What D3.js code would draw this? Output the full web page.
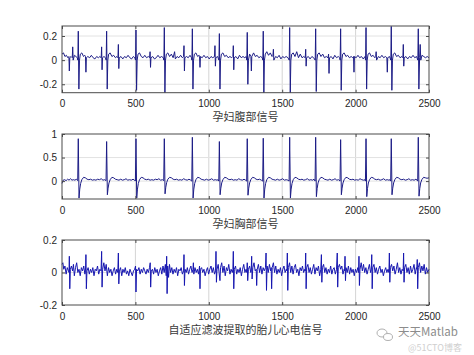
<!DOCTYPE html>
<html>
<head>
<meta charset="utf-8">
<script src="https://cdn.jsdelivr.net/npm/d3@7"></script>
<style>
  body { margin: 0; background: #fff; }
  svg { display: block; }
  .tick text { font-family: "Liberation Sans", Arial, sans-serif; font-size: 10px; fill: #262626; }
</style>
</head>
<body>
<svg id="chart" width="474" height="355"></svg>
<script>
// x ticks shared by the three panels
const xTicks = [0, 500, 1000, 1500, 2000, 2500];

const titles = ["孕妇腹部信号", "孕妇胸部信号", "自适应滤波提取的胎儿心电信号"];
const yTicks1 = [-0.2, 0, 0.2];
const yTicks2 = [0, 0.5, 1];
const yTicks3 = [-0.2, 0, 0.2];

// abdominal signal (sample, value)
const abdomen = [
[0,0.05],[10,0.06],[20,0.03],[30,0.04],[40,0.02],[47,0.03],[50,-0.09],[53,0.02],[62,0.03],[70,0.02],[73,0.11],[76,0.0],[85,0.04],[95,0.03],[104,0.02],[108,0.0],[111,0.24],[115,-0.24],[119,0.0],[125,0.05],[135,0.06],[147,0.03],[155,0.04],[160,0.03],[163,-0.10],[166,0.02],[176,0.03],[188,0.02],[200,0.04],[212,0.02],[224,0.01],[236,0.03],[248,0.02],[258,0.03],[267,0.02],[270,0.11],[273,-0.08],[276,0.02],[286,0.03],[296,0.02],[301,0.0],[304,0.24],[308,-0.24],[312,0.0],[318,0.05],[328,0.06],[340,0.03],[352,0.04],[364,0.02],[374,0.03],[381,0.02],[384,0.13],[387,-0.07],[390,0.02],[402,0.03],[414,0.01],[426,0.03],[438,0.02],[450,0.04],[462,0.02],[474,0.01],[486,0.03],[496,0.02],[501,0.0],[504,0.25],[508,-0.25],[512,0.0],[518,0.05],[528,0.06],[540,0.03],[552,0.02],[564,0.04],[576,0.02],[588,0.03],[597,0.02],[600,0.07],[603,-0.06],[606,0.02],[618,0.03],[630,0.01],[642,0.02],[654,0.04],[666,0.02],[678,0.03],[690,0.02],[694,0.0],[697,0.27],[701,-0.27],[705,0.0],[711,0.05],[721,0.06],[733,0.03],[745,0.05],[757,0.02],[767,0.07],[772,0.01],[784,0.03],[796,0.02],[808,0.04],[820,0.02],[828,0.03],[831,0.12],[834,-0.09],[837,0.02],[848,0.03],[860,0.02],[872,0.04],[882,0.02],[885,0.0],[888,0.26],[892,-0.24],[896,0.0],[902,0.05],[912,0.06],[924,0.03],[934,0.04],[937,0.03],[940,-0.06],[943,0.03],[955,0.02],[967,0.04],[979,0.02],[991,0.03],[1003,0.01],[1015,0.03],[1027,0.02],[1039,0.03],[1042,0.12],[1045,-0.05],[1048,0.02],[1060,0.03],[1069,0.0],[1072,0.22],[1076,-0.24],[1080,0.0],[1086,0.05],[1096,0.06],[1108,0.03],[1120,0.04],[1132,0.02],[1144,0.03],[1156,0.02],[1164,0.03],[1167,0.12],[1170,-0.08],[1173,0.02],[1185,0.03],[1197,0.01],[1209,0.04],[1221,0.02],[1233,0.03],[1245,0.02],[1255,0.03],[1259,0.0],[1262,0.23],[1266,-0.2],[1270,0.0],[1278,0.05],[1287,0.03],[1290,-0.09],[1293,0.03],[1305,0.06],[1317,0.03],[1329,0.04],[1341,0.02],[1353,0.03],[1364,0.02],[1368,0.0],[1371,0.24],[1375,-0.27],[1379,0.0],[1385,0.05],[1395,0.07],[1407,0.04],[1419,0.06],[1431,0.03],[1437,0.04],[1440,0.09],[1443,0.0],[1455,0.03],[1467,0.02],[1479,0.04],[1491,0.01],[1503,0.03],[1515,0.02],[1527,0.03],[1539,0.02],[1548,0.0],[1551,0.27],[1555,-0.27],[1559,0.0],[1565,0.05],[1575,0.06],[1587,0.03],[1599,0.07],[1611,0.02],[1623,0.05],[1635,0.02],[1647,0.03],[1657,0.02],[1660,0.09],[1663,-0.05],[1666,0.02],[1678,0.03],[1690,0.01],[1702,0.03],[1714,0.02],[1725,0.0],[1728,0.26],[1732,-0.26],[1736,0.0],[1742,0.05],[1752,0.06],[1764,0.03],[1776,0.05],[1788,0.02],[1800,0.03],[1812,0.02],[1816,0.05],[1819,-0.11],[1822,0.02],[1834,0.03],[1846,0.01],[1858,0.04],[1870,0.02],[1882,0.03],[1891,0.02],[1895,0.0],[1898,0.26],[1902,-0.25],[1906,0.0],[1912,0.05],[1922,0.06],[1934,0.03],[1946,0.04],[1958,0.02],[1970,0.03],[1980,0.02],[1986,0.03],[1989,-0.1],[1992,0.03],[2004,0.02],[2016,0.04],[2028,0.02],[2040,0.03],[2052,0.01],[2064,0.03],[2068,0.0],[2071,0.27],[2075,-0.24],[2079,0.0],[2085,0.05],[2095,0.06],[2107,0.03],[2119,0.04],[2131,0.02],[2137,0.03],[2140,0.07],[2143,0.0],[2155,0.03],[2167,0.02],[2179,0.04],[2191,0.02],[2203,0.03],[2213,0.02],[2216,-0.1],[2219,0.02],[2231,0.03],[2240,0.0],[2243,0.28],[2247,-0.25],[2251,0.0],[2257,0.05],[2267,0.06],[2279,0.03],[2291,0.04],[2303,0.02],[2315,0.03],[2322,0.02],[2325,0.13],[2328,-0.05],[2331,0.02],[2343,0.03],[2355,0.01],[2367,0.03],[2379,0.02],[2391,0.04],[2403,0.02],[2415,0.03],[2424,0.0],[2427,0.26],[2431,-0.24],[2436,0.02],[2440,0.13],[2444,0.0],[2452,0.04],[2464,0.03],[2476,0.02],[2488,0.03],[2500,0.02]
];

// thoracic signal
const thorax = [
[0,-0.05],[8,0.02],[18,0.03],[28,0.01],[38,0.04],[48,0.02],[58,0.05],[68,0.02],[78,0.03],[88,0.02],[98,0.04],[107,0.01],[111,0.90],[116,-0.36],[121,-0.17],[127,-0.05],[135,0.03],[147,0.08],[159,0.07],[171,0.04],[183,0.03],[195,0.04],[207,0.02],[219,0.03],[231,0.02],[243,0.04],[255,0.03],[267,0.05],[279,0.02],[291,0.03],[300,0.01],[304,0.84],[309,-0.29],[314,-0.15],[320,-0.04],[328,0.03],[340,0.08],[352,0.07],[364,0.04],[376,0.03],[388,0.02],[400,0.04],[412,0.02],[424,0.03],[436,0.05],[448,0.02],[460,0.03],[472,0.02],[484,0.04],[494,0.02],[500,0.0],[504,0.90],[509,-0.36],[514,-0.17],[520,-0.05],[528,0.03],[540,0.08],[552,0.07],[564,0.04],[576,0.03],[588,0.04],[600,0.02],[612,0.03],[624,0.02],[636,0.04],[648,0.03],[660,0.05],[672,0.02],[684,0.03],[693,0.01],[697,0.90],[702,-0.27],[707,-0.13],[713,-0.03],[721,0.04],[733,0.08],[745,0.07],[757,0.04],[769,0.03],[781,0.04],[793,0.02],[805,0.03],[817,0.02],[829,0.05],[841,0.03],[853,0.02],[865,0.04],[877,0.02],[884,0.0],[888,0.93],[893,-0.36],[898,-0.17],[904,-0.05],[912,0.03],[924,0.08],[936,0.07],[948,0.04],[960,0.03],[972,0.02],[984,0.04],[996,0.02],[1008,0.03],[1020,0.05],[1032,0.02],[1044,0.03],[1056,0.02],[1064,0.03],[1068,0.0],[1072,0.84],[1077,-0.29],[1082,-0.15],[1088,-0.04],[1096,0.03],[1108,0.08],[1120,0.07],[1132,0.04],[1144,0.03],[1156,0.04],[1168,0.02],[1180,0.03],[1192,0.02],[1204,0.05],[1216,0.03],[1228,0.02],[1240,0.04],[1250,0.02],[1258,0.0],[1262,0.90],[1267,-0.30],[1272,-0.15],[1278,-0.04],[1286,0.03],[1298,0.08],[1310,0.07],[1322,0.04],[1334,0.03],[1346,0.04],[1358,0.02],[1367,0.0],[1371,0.91],[1376,-0.36],[1381,-0.17],[1387,-0.05],[1395,0.03],[1407,0.08],[1419,0.07],[1431,0.04],[1443,0.03],[1455,0.02],[1467,0.04],[1479,0.02],[1491,0.03],[1503,0.05],[1515,0.02],[1527,0.03],[1539,0.02],[1547,0.0],[1551,0.93],[1556,-0.36],[1561,-0.17],[1567,-0.05],[1575,0.03],[1587,0.08],[1599,0.07],[1611,0.04],[1623,0.03],[1635,0.04],[1647,0.02],[1659,0.03],[1671,0.05],[1683,0.02],[1695,0.03],[1707,0.02],[1717,0.04],[1724,0.0],[1728,0.93],[1733,-0.33],[1738,-0.16],[1744,-0.04],[1752,0.03],[1764,0.08],[1776,0.07],[1788,0.04],[1800,0.03],[1812,0.02],[1824,0.04],[1836,0.02],[1848,0.03],[1860,0.05],[1872,0.02],[1884,0.03],[1894,0.0],[1898,0.88],[1903,-0.29],[1908,-0.15],[1914,-0.04],[1922,0.03],[1934,0.08],[1946,0.07],[1958,0.04],[1970,0.03],[1982,0.04],[1994,0.02],[2006,0.03],[2018,0.02],[2030,0.05],[2042,0.03],[2054,0.02],[2062,0.03],[2067,0.0],[2071,0.90],[2076,-0.33],[2081,-0.16],[2087,-0.04],[2095,0.03],[2107,0.08],[2119,0.07],[2131,0.04],[2143,0.03],[2155,0.04],[2167,0.02],[2179,0.03],[2191,0.05],[2203,0.02],[2215,0.03],[2227,0.02],[2235,0.03],[2239,0.0],[2243,0.90],[2248,-0.29],[2253,-0.15],[2259,-0.04],[2267,0.03],[2279,0.08],[2291,0.07],[2303,0.04],[2315,0.03],[2327,0.04],[2339,0.02],[2351,0.03],[2363,0.05],[2375,0.02],[2387,0.03],[2399,0.02],[2411,0.04],[2419,0.02],[2423,0.0],[2427,0.93],[2432,-0.32],[2437,-0.16],[2443,-0.04],[2451,0.03],[2463,0.08],[2475,0.07],[2487,0.06],[2500,0.07]
];

// extracted fetal ECG
const fetal = [
[0,0.05],[6,0.06],[12,0.02],[20,0.04],[28,-0.01],[36,0.03],[44,0.01],[48,0.0],[50,0.10],[53,-0.10],[57,0.02],[64,0.04],[72,0.01],[78,0.05],[84,-0.02],[92,0.03],[100,0.06],[108,0.0],[116,0.02],[124,-0.02],[132,0.03],[140,0.01],[148,0.04],[156,-0.01],[160,0.01],[163,0.11],[166,-0.10],[170,0.01],[178,0.03],[186,-0.01],[194,0.02],[202,0.0],[210,0.03],[218,-0.02],[226,0.02],[234,0.01],[242,0.04],[250,-0.01],[258,0.02],[266,0.01],[270,0.13],[273,-0.09],[277,0.02],[285,0.06],[293,0.01],[301,0.05],[309,-0.02],[317,0.03],[325,0.0],[333,0.02],[341,-0.02],[349,0.01],[357,0.03],[365,-0.01],[373,0.02],[380,0.0],[384,0.12],[387,-0.07],[391,0.01],[399,0.03],[407,-0.02],[415,0.02],[423,0.0],[431,0.03],[439,-0.01],[447,0.01],[455,-0.02],[463,0.02],[471,0.0],[479,-0.02],[487,0.01],[495,0.02],[501,0.04],[504,-0.12],[508,0.02],[516,0.01],[524,0.03],[532,-0.01],[540,0.02],[548,0.0],[556,0.03],[564,0.01],[572,-0.01],[580,0.02],[588,0.0],[596,0.03],[601,0.06],[604,-0.09],[608,0.01],[616,0.02],[624,-0.01],[632,0.03],[640,0.0],[648,0.02],[656,-0.02],[664,0.01],[672,0.03],[680,-0.01],[688,0.04],[696,0.0],[704,0.05],[710,-0.02],[713,0.10],[716,-0.13],[720,0.04],[726,-0.03],[732,0.05],[740,0.0],[748,0.03],[756,-0.01],[764,0.02],[772,0.0],[780,0.03],[788,-0.02],[796,0.02],[804,0.01],[812,0.03],[820,-0.01],[828,0.01],[831,0.11],[834,-0.08],[838,0.02],[846,0.0],[854,0.03],[862,-0.01],[870,0.02],[878,0.04],[886,0.0],[892,0.02],[895,0.06],[898,-0.01],[906,0.03],[914,0.0],[922,0.02],[930,-0.01],[937,0.04],[940,-0.10],[943,0.02],[951,0.03],[959,0.0],[967,0.02],[975,-0.02],[983,0.01],[991,0.03],[999,-0.01],[1007,0.02],[1015,0.04],[1023,0.0],[1031,0.03],[1039,-0.01],[1046,0.01],[1049,0.13],[1052,-0.06],[1056,0.02],[1064,0.05],[1070,0.0],[1076,-0.05],[1080,0.03],[1088,0.06],[1096,0.0],[1104,0.04],[1112,-0.02],[1120,0.03],[1128,0.01],[1136,0.05],[1144,-0.01],[1152,0.02],[1160,0.0],[1164,0.02],[1167,0.13],[1170,-0.10],[1174,0.02],[1182,0.04],[1190,-0.01],[1198,0.02],[1206,0.0],[1214,0.03],[1222,-0.02],[1230,0.02],[1238,0.05],[1246,0.0],[1254,0.02],[1259,0.0],[1262,0.06],[1265,-0.05],[1270,0.02],[1278,0.04],[1286,0.0],[1289,0.01],[1292,0.10],[1295,-0.04],[1300,0.03],[1308,0.06],[1316,0.01],[1323,0.02],[1326,-0.08],[1330,0.02],[1338,0.05],[1346,0.0],[1354,0.04],[1362,-0.01],[1370,0.03],[1378,0.01],[1386,0.03],[1390,0.12],[1393,-0.11],[1397,0.04],[1405,0.0],[1413,0.05],[1421,0.01],[1425,0.03],[1428,-0.10],[1432,0.03],[1440,0.06],[1448,0.0],[1456,0.04],[1464,-0.01],[1472,0.02],[1480,0.0],[1488,0.03],[1496,-0.02],[1504,0.02],[1512,0.04],[1520,0.0],[1528,0.02],[1532,0.01],[1535,0.12],[1538,-0.11],[1542,0.03],[1550,0.06],[1558,0.0],[1566,0.04],[1574,-0.01],[1582,0.03],[1590,0.05],[1598,0.0],[1606,0.02],[1614,-0.02],[1622,0.03],[1630,0.01],[1638,0.04],[1646,0.0],[1654,0.02],[1657,0.01],[1660,0.12],[1663,-0.10],[1667,0.03],[1675,0.05],[1683,0.0],[1691,0.03],[1699,-0.01],[1707,0.02],[1715,0.05],[1723,-0.01],[1731,0.03],[1739,0.01],[1747,0.04],[1755,-0.02],[1763,0.02],[1767,0.11],[1770,-0.06],[1774,0.03],[1782,0.05],[1790,0.0],[1798,0.03],[1806,-0.01],[1814,0.02],[1822,0.0],[1830,0.04],[1838,-0.01],[1846,0.02],[1854,0.03],[1862,-0.01],[1870,0.02],[1875,0.12],[1878,-0.09],[1882,0.03],[1890,0.05],[1898,0.02],[1906,0.04],[1914,-0.01],[1922,0.02],[1925,0.01],[1928,0.10],[1931,-0.05],[1935,0.03],[1943,0.0],[1951,0.04],[1959,-0.01],[1967,0.03],[1975,0.0],[1983,0.02],[1991,-0.02],[1999,0.02],[2007,0.0],[2015,0.03],[2020,0.0],[2023,0.10],[2026,-0.08],[2030,0.02],[2038,0.06],[2046,0.01],[2054,0.05],[2062,0.0],[2070,0.03],[2078,-0.01],[2086,0.02],[2094,0.05],[2102,0.0],[2107,0.02],[2110,0.11],[2113,-0.10],[2117,0.03],[2125,0.05],[2133,0.0],[2141,0.03],[2149,-0.01],[2157,0.02],[2165,0.04],[2173,0.0],[2181,0.02],[2189,-0.02],[2197,0.01],[2205,0.03],[2213,0.0],[2221,0.02],[2227,0.0],[2230,0.12],[2233,-0.06],[2237,0.03],[2245,0.05],[2253,0.01],[2261,0.04],[2269,-0.01],[2277,0.02],[2285,0.06],[2293,0.0],[2301,0.03],[2309,-0.01],[2317,0.02],[2324,0.01],[2327,0.12],[2330,-0.06],[2334,0.03],[2342,0.05],[2350,0.0],[2358,0.03],[2366,-0.01],[2374,0.04],[2382,0.0],[2390,0.02],[2398,0.05],[2406,-0.01],[2414,0.03],[2417,0.02],[2420,0.08],[2423,-0.10],[2427,0.03],[2435,0.06],[2443,0.0],[2451,0.04],[2459,0.01],[2467,0.05],[2475,-0.01],[2483,0.03],[2491,0.0],[2500,0.02]
];

const svg = d3.select("#chart");
const left = 62, right = 429;
const fmt = (d) => String(d);

const x = d3.scaleLinear().domain([0, 2500]).range([left, right]);

const panels = [
  { data: abdomen, top: 26, bottom: 92.7, domain: [-0.27, 0.283], ticks: yTicks1, title: titles[0], color: "#1c1c86" },
  { data: thorax, top: 134, bottom: 199, domain: [-0.38, 1], ticks: yTicks2, title: titles[1], color: "#1c1c86" },
  { data: fetal, top: 240, bottom: 305, domain: [-0.2, 0.2], ticks: yTicks3, title: titles[2], color: "#1616b0" },
];

panels.forEach((p) => {
  const y = d3.scaleLinear().domain(p.domain).range([p.bottom, p.top]);
  const g = svg.append("g");

  // grid
  g.selectAll(".vgrid")
    .data(xTicks.slice(1, -1))
    .enter()
    .append("line")
    .attr("x1", (d) => x(d))
    .attr("x2", (d) => x(d))
    .attr("y1", p.top)
    .attr("y2", p.bottom)
    .attr("stroke", "#d4d4d4")
    .attr("stroke-width", 1);
  g.selectAll(".hgrid")
    .data(p.ticks.filter((d) => y(d) > p.top + 1 && y(d) < p.bottom - 1))
    .enter()
    .append("line")
    .attr("x1", left)
    .attr("x2", right)
    .attr("y1", (d) => y(d))
    .attr("y2", (d) => y(d))
    .attr("stroke", "#e2e2e2")
    .attr("stroke-width", 1);

  // signal
  const line = d3.line().x((d) => x(d[0])).y((d) => y(d[1]));
  g.append("path")
    .datum(p.data)
    .attr("d", line)
    .attr("fill", "none")
    .attr("stroke", p.color)
    .attr("stroke-width", 1)
    .attr("stroke-linejoin", "round");

  // axes, ticks pointing inward like matlab
  g.append("g")
    .attr("transform", `translate(0,${p.bottom})`)
    .call(d3.axisBottom(x).tickValues(xTicks).tickFormat(fmt).tickSize(-3).tickPadding(7.5));
  g.append("g")
    .attr("transform", `translate(0,${p.top})`)
    .call(d3.axisTop(x).tickValues(xTicks).tickFormat("").tickSize(-3));
  g.append("g")
    .attr("transform", `translate(${left},0)`)
    .call(d3.axisLeft(y).tickValues(p.ticks).tickFormat(fmt).tickSize(-3).tickPadding(5));
  g.append("g")
    .attr("transform", `translate(${right},0)`)
    .call(d3.axisRight(y).tickValues(p.ticks).tickFormat("").tickSize(-3));
  g.selectAll(".domain").remove();
  g.selectAll(".tick line").attr("stroke", "#4a4a4a");

  // box
  g.append("rect")
    .attr("x", left)
    .attr("y", p.top)
    .attr("width", right - left)
    .attr("height", p.bottom - p.top)
    .attr("fill", "none")
    .attr("stroke", "#4a4a4a")
    .attr("stroke-width", 1);

  g.append("text")
    .attr("x", (left + right) / 2)
    .attr("y", p.bottom + 28.5)
    .attr("text-anchor", "middle")
    .style("font-family", '"Noto Sans CJK SC", sans-serif')
    .style("font-size", "11px")
    .style("fill", "#3a3a3a")
    .text(p.title);
});

// watermark
const wm = svg.append("g");
wm.append("ellipse").attr("cx", 382).attr("cy", 333).attr("rx", 5).attr("ry", 4)
  .attr("fill", "none").attr("stroke", "#b0b0b0");
wm.append("ellipse").attr("cx", 388).attr("cy", 337).attr("rx", 4.5).attr("ry", 3.5)
  .attr("fill", "#fff").attr("stroke", "#b0b0b0");
wm.append("text").attr("x", 398).attr("y", 336)
  .style("font-family", '"Noto Sans CJK SC", sans-serif').style("font-size", "11.5px")
  .style("fill", "#8c8c8c").text("天天Matlab");
wm.append("text").attr("x", 408).attr("y", 351)
  .style("font-family", '"Noto Sans CJK SC", sans-serif').style("font-size", "9px")
  .style("fill", "#cfcfcf").text("@51CTO博客");
</script>
</body>
</html>
